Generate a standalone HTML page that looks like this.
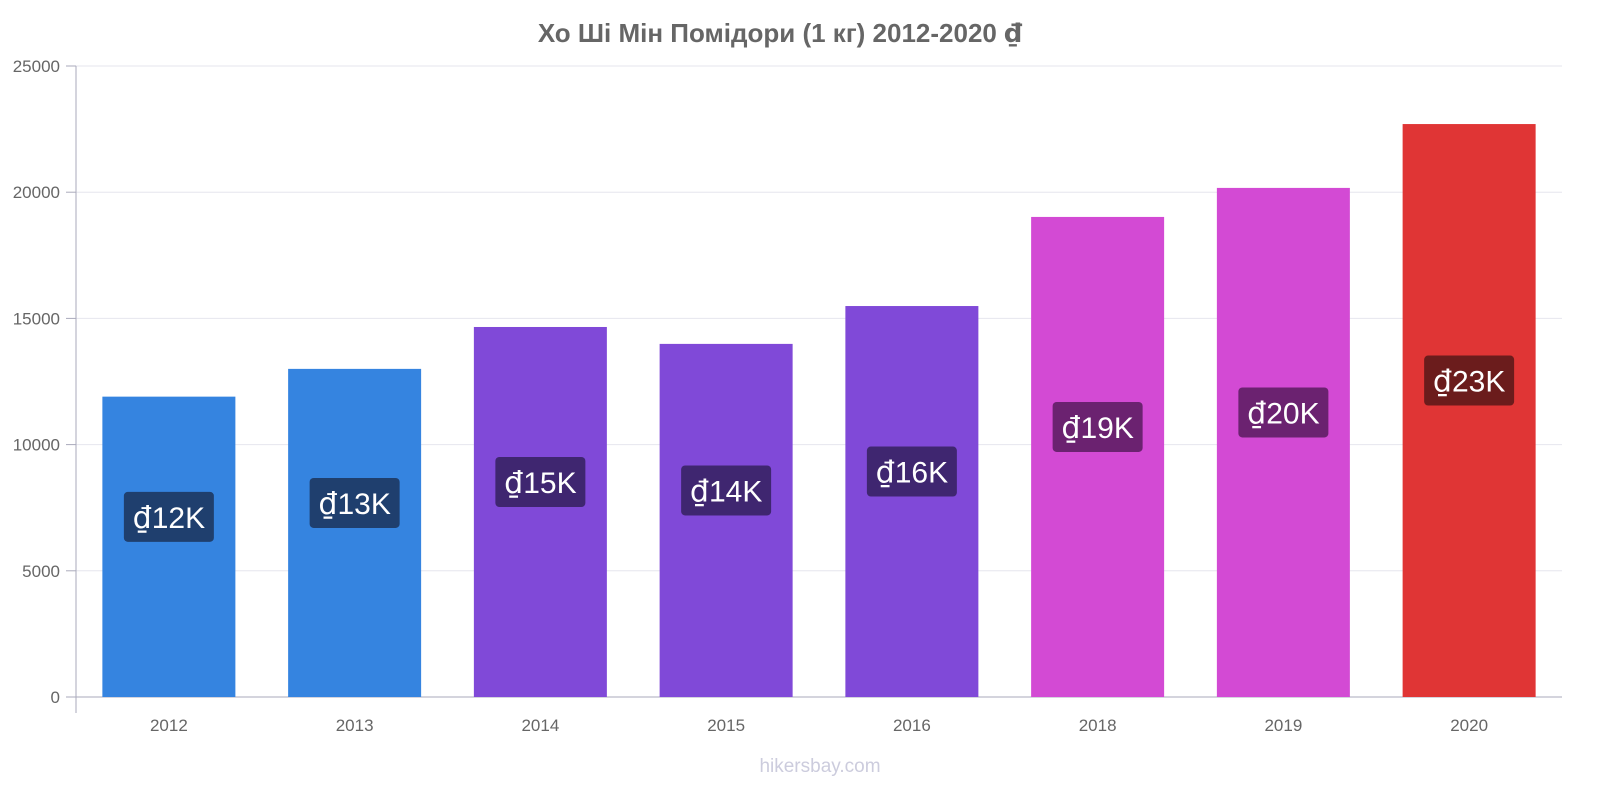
<!DOCTYPE html>
<html><head><meta charset="utf-8"><style>
body{margin:0;background:#fff;font-family:"Liberation Sans",sans-serif}
svg text{font-family:"Liberation Sans",sans-serif}
.dong{font-family:"DejaVu Sans",sans-serif}
</style></head><body>
<svg id="chart" width="1600" height="800">
<text x="780" y="42" text-anchor="middle" font-size="26" font-weight="bold" fill="#666">Хо Ші Мін Помідори (1 кг) 2012-2020 <tspan class="dong">₫</tspan></text>
<g id="grid"></g><g id="bars"></g>
<text x="820" y="772" text-anchor="middle" font-size="19" fill="#ccd">hikersbay.com</text>
</svg>
<script>
const categories=["2012","2013","2014","2015","2016","2018","2019","2020"];
const values=[11900,13000,14660,13990,15490,19020,20170,22700];
const labels=["12K","13K","15K","14K","16K","19K","20K","23K"];
const yTicks=[0,5000,10000,15000,20000,25000];
const colors=["#3584e0","#3584e0","#8049d8","#8049d8","#8049d8","#d34ad4","#d34ad4","#e03535"];
const labelBg=["#1f3f6e","#1f3f6e","#3f2670","#3f2670","#3f2670","#6b2270","#6b2270","#6b1c1c"];
const NS="http://www.w3.org/2000/svg";
const x0=76,x1=1562,y0=697,yTop=66,yMax=25000;
const y=v=>y0-(v/yMax)*(y0-yTop);
const band=(x1-x0)/categories.length;
const xc=i=>x0+band*(i+0.5);
function mk(t,a,p){const e=document.createElementNS(NS,t);for(const k in a)e.setAttribute(k,a[k]);p.appendChild(e);return e;}
const g=document.getElementById('grid'),b=document.getElementById('bars');
yTicks.forEach(t=>{
 const l=mk('line',{x1:x0,x2:x1,y1:y(t),y2:y(t),stroke:t===0?'#aab':'#e6e6ee'},g);
 
 
 const tk=mk('line',{x1:x0-10,x2:x0,y1:y(t),y2:y(t),stroke:'#aab'},g);
 
 
 const tx=mk('text',{x:x0-16,y:y(t)+6,'text-anchor':'end','font-size':17,fill:'#666'},g);
 tx.textContent=t;
 
 
});
const ax=mk('line',{x1:x0,x2:x0,y1:yTop,y2:y0+16,stroke:'#aab'},g);


categories.forEach((c,i)=>{
 const w=133,top=y(values[i]);
 const r=mk('rect',{x:xc(i)-w/2,y:top,width:w,height:y0-top,fill:colors[i]},b);
 
 
 const ly=(top+y0)/2-30;
 const bg=mk('rect',{x:xc(i)-45,y:ly-25,width:90,height:50,rx:4,fill:labelBg[i]},b);
 
 
 const lt=mk('text',{x:xc(i),y:ly+11,'text-anchor':'middle','font-size':30,fill:'#fff'},b);
 
 
 const s=mk('tspan',{class:'dong'},lt);
 s.textContent='₫';
 const s2=mk('tspan',{},lt);
 s2.textContent=labels[i];
 const xt=mk('text',{x:xc(i),y:731,'text-anchor':'middle','font-size':17,fill:'#666'},b);
 xt.textContent=c;
 
 
});
</script>
</body></html>
